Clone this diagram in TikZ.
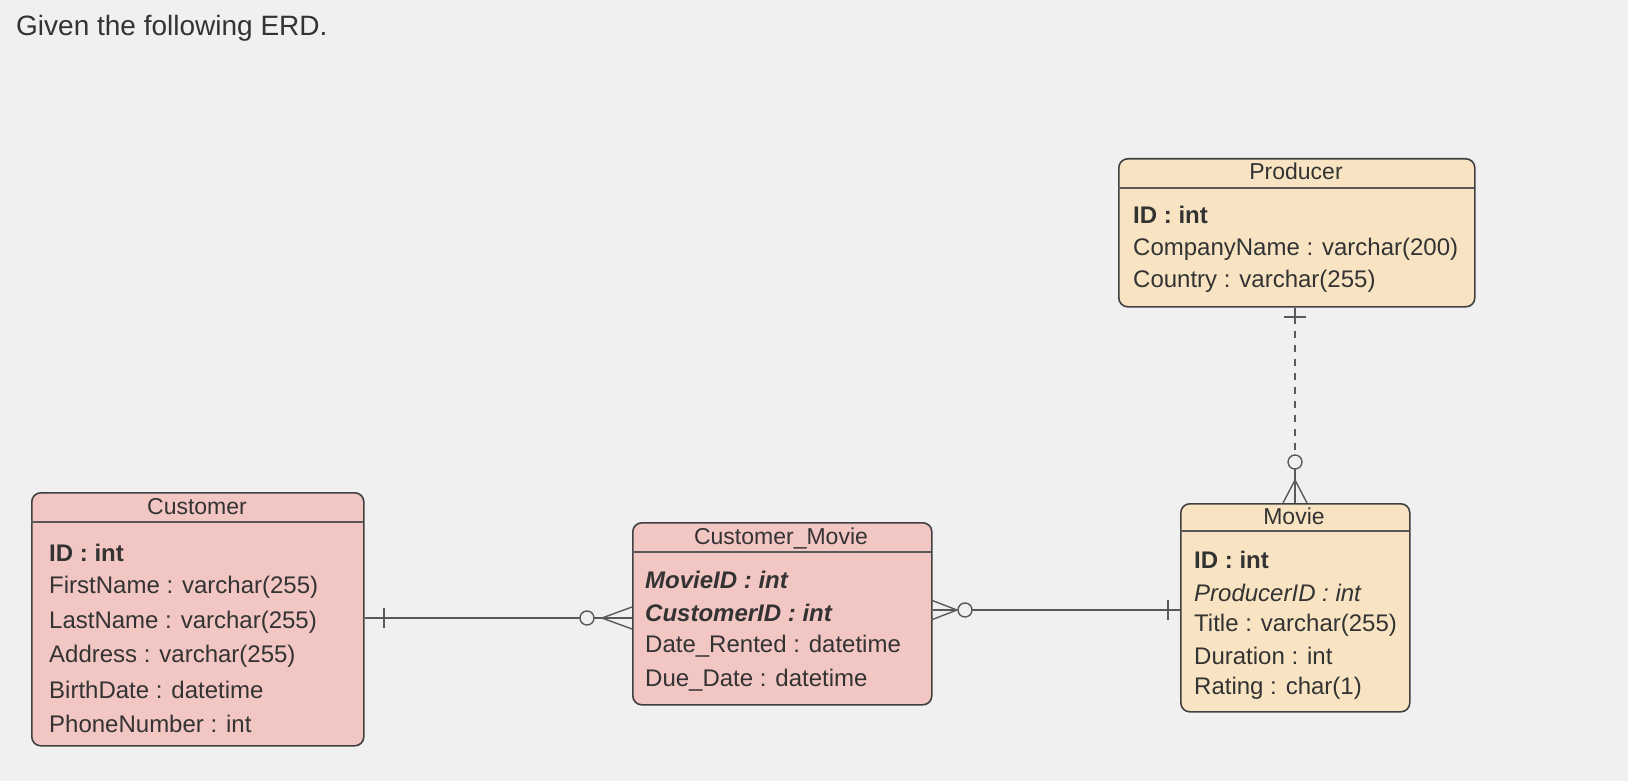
\documentclass[tikz,border=0pt]{standalone}
\usepackage{fontspec}
\setmainfont{Liberation Sans}
\begin{document}
\begin{tikzpicture}[x=1pt,y=-1pt,
  ent/.style={draw=black!75,line width=1.6pt,rounded corners=9pt,anchor=north west,inner sep=0pt},
  attr/.style={anchor=west,inner sep=0pt,font=\fontsize{24}{28}\selectfont,text=black!80},
  ttl/.style={inner sep=0pt,font=\fontsize{23}{26}\selectfont,text=black!80},
  ln/.style={draw=black!65,line width=1.4pt}]
\definecolor{pinkf}{HTML}{F1C6C3}
\definecolor{tanf}{HTML}{F8E4C2}
\fill[black!6] (0,0) rectangle (1628,781);
\useasboundingbox (0,0) rectangle (1628,781);
\node[attr,font=\fontsize{28}{32}\selectfont] (t) at (16,28) {Given the following ERD.};
% Customer
\node[ent,fill=pinkf,minimum width=332pt,minimum height=253pt] (cust) at (31,492) {};
\draw[ln] (31,522) -- (363,522);
\node[ttl] (custt) at (197,507) {Customer};
\node[attr] (c1) at (49,553) {\textbf{ID : int}};
\node[attr] (c2) at (49,587) {FirstName : varchar(255)};
\node[attr] (c3) at (49,622) {LastName : varchar(255)};
\node[attr] (c4) at (49,656) {Address : varchar(255)};
\node[attr] (c5) at (49,690) {BirthDate : datetime};
\node[attr] (c6) at (49,724) {PhoneNumber : int};
% Customer_Movie
\node[ent,fill=pinkf,minimum width=299pt,minimum height=182pt] (cm) at (632,522) {};
\draw[ln] (632,552) -- (931,552);
\node[ttl] (cmt) at (781,538) {Customer\_Movie};
\node[attr] (m1) at (645,580) {\textbf{\textit{MovieID : int}}};
\node[attr] (m2) at (645,613) {\textbf{\textit{CustomerID : int}}};
\node[attr] (m3) at (645,646) {Date\_Rented : datetime};
\node[attr] (m4) at (645,680) {Due\_Date : datetime};
% Producer
\node[ent,fill=tanf,minimum width=356pt,minimum height=148pt] (prod) at (1118,158) {};
\draw[ln] (1118,188) -- (1474,188);
\node[ttl] (prodt) at (1296,171) {Producer};
\node[attr] (p1) at (1133,215) {\textbf{ID : int}};
\node[attr] (p2) at (1133,249) {CompanyName : varchar(200)};
\node[attr] (p3) at (1133,281) {Country : varchar(255)};
% Movie
\node[ent,fill=tanf,minimum width=229pt,minimum height=208pt] (mov) at (1180,503) {};
\draw[ln] (1180,531) -- (1409,531);
\node[ttl] (movt) at (1294,516) {Movie};
\node[attr] (v1) at (1194,560) {\textbf{ID : int}};
\node[attr] (v2) at (1194,593) {\textit{ProducerID : int}};
\node[attr] (v3) at (1194,625) {Title : varchar(255)};
\node[attr] (v4) at (1194,656) {Duration : int};
\node[attr] (v5) at (1194,688) {Rating : char(1)};
% Customer -- Customer_Movie
\coordinate (a1) at (cust.east |- 0,618);
\coordinate (a2) at (cm.west |- 0,618);
\draw[ln] (a1) -- (580,618);
\draw[ln] (384,608) -- (384,628);
\draw[ln] (587,618) circle (7);
\draw[ln] (594,618) -- (a2);
\draw[ln] (602,618) -- (632,607) (602,618) -- (632,629);
% Customer_Movie -- Movie
\coordinate (b1) at (cm.east |- 0,610);
\coordinate (b2) at (mov.west |- 0,610);
\draw[ln] (931,600) -- (957,610) -- (931,620);
\draw[ln] (b1) -- (957,610);
\draw[ln] (965,610) circle (7);
\draw[ln] (972,610) -- (b2);
\draw[ln] (1168,600) -- (1168,620);
% Producer -- Movie
\coordinate (d1) at (prod.south -| 1295,0);
\coordinate (d2) at (mov.north -| 1295,0);
\draw[ln] (d1) -- (1295,317);
\draw[ln] (1284,317) -- (1306,317);
\draw[ln,dashed,dash pattern=on 7pt off 7pt] (1295,317) -- (1295,455);
\draw[ln] (1295,462) circle (7);
\draw[ln] (1295,469) -- (d2);
\draw[ln] (1295,480) -- (1283,503) (1295,480) -- (1307,503);
\end{tikzpicture}
\end{document}
